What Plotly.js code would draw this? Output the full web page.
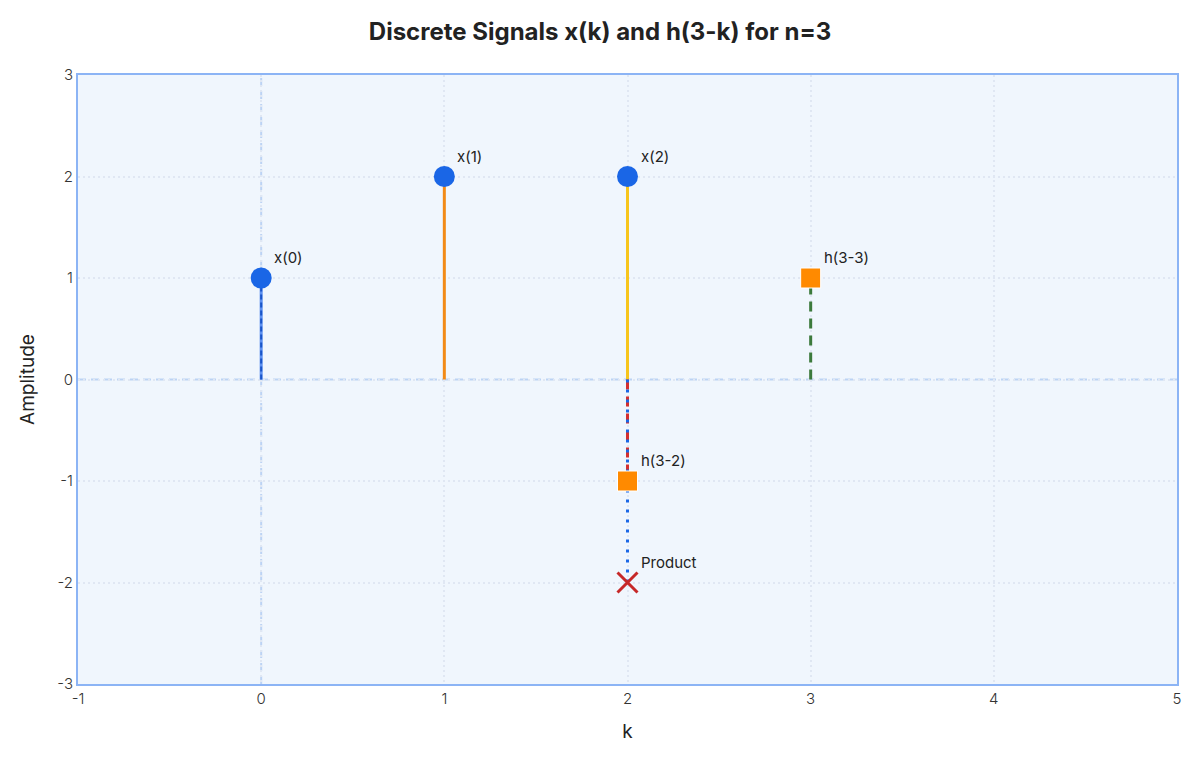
<!DOCTYPE html>
<html><head><meta charset="utf-8">
<script src="https://cdn.plot.ly/plotly-3.0.1.min.js"></script>
<style>html,body{margin:0;padding:0;background:#fff}#chart{width:1200px;height:760px}</style>
</head><body><div id="chart"></div>
<script>
// Data
const xK = [0, 1, 2];
const xVals = [1, 2, 2];
const xLabels = ["x(0)", "x(1)", "x(2)"];
const xStemColors = ["#5b8ff0", "#f28a16", "#f7c51c"];
const hK = [2, 3];
const hVals = [-1, 1];
const hLabels = ["h(3-2)", "h(3-3)"];
const hStemColors = ["#d32f2f", "#3c7a3c"];
const prodK = [2];
const prodVals = [-2];
const prodLabels = ["Product"];
const xTicks = [-1, 0, 1, 2, 3, 4, 5];
const yTicks = [-3, -2, -1, 0, 1, 2, 3];

const traces = [];
// x stems
xK.forEach((k, i) => {
  traces.push({x: [k, k], y: [0, xVals[i]], mode: 'lines', line: {color: xStemColors[i], width: 3}, hoverinfo: 'skip', showlegend: false});
});
// dashed overlay on x(0) stem
traces.push({x: [xK[0], xK[0]], y: [0, xVals[0]], mode: 'lines', line: {color: '#1a55c8', width: 2, dash: '5px,3px'}, hoverinfo: 'skip', showlegend: false});
// h stems
hK.forEach((k, i) => {
  traces.push({x: [k, k], y: [0, hVals[i]], mode: 'lines', line: {color: hStemColors[i], width: 3, dash: '10px,7px'}, hoverinfo: 'skip', showlegend: false});
});
// product stem
prodK.forEach((k, i) => {
  traces.push({x: [k, k], y: [0, prodVals[i]], mode: 'lines', line: {color: '#1a66e6', width: 3, dash: '3px,7px'}, hoverinfo: 'skip', showlegend: false});
});
// markers
traces.push({x: xK, y: xVals, mode: 'markers', marker: {symbol: 'circle', size: 21, color: '#1a66e6'}, showlegend: false});
traces.push({x: hK, y: hVals, mode: 'markers', marker: {symbol: 'square', size: 20, color: '#ff8a00', line: {color: '#ffffff', width: 1}}, showlegend: false});
traces.push({x: prodK, y: prodVals, mode: 'markers', marker: {symbol: 'x-thin', size: 20, color: '#c62828', line: {color: '#c62828', width: 3}}, showlegend: false});

const annotations = [];
const addLabels = (ks, vs, labels) => ks.forEach((k, i) => annotations.push({
  x: k, y: vs[i], text: labels[i], showarrow: false, xanchor: 'left', yanchor: 'bottom',
  xshift: 11, yshift: 9, font: {size: 15, color: '#222'}
}));
addLabels(xK, xVals, xLabels);
addLabels(hK, hVals, hLabels);
addLabels(prodK, prodVals, prodLabels);

const layout = {
  width: 1200, height: 760,
  margin: {l: 78, r: 23, t: 75, b: 76},
  paper_bgcolor: '#ffffff', plot_bgcolor: '#f0f6fd',
  font: {family: 'Inter, "Noto Sans", sans-serif', color: '#222', size: 15},
  title: {text: '<b>Discrete Signals x(k) and h(3-k) for n=3</b>', x: 0.5, xanchor: 'center', y: 0.958, yanchor: 'middle', font: {size: 24, color: '#222'}},
  xaxis: {
    range: [-1, 5], tickvals: xTicks, ticktext: xTicks.map(String),
    showgrid: true, gridcolor: '#e0e7f3', griddash: '2px,3px', gridwidth: 2,
    zeroline: false,
    showline: true, linecolor: '#8cb4f5', linewidth: 2, mirror: true,
    ticks: '', tickfont: {size: 15, color: '#333', weight: 300},
    title: {text: 'k', font: {size: 19}, standoff: 18}
  },
  yaxis: {
    range: [-3, 3], tickvals: yTicks, ticktext: yTicks.map(String),
    showgrid: true, gridcolor: '#e0e7f3', griddash: '2px,3px', gridwidth: 2,
    zeroline: false,
    showline: true, linecolor: '#8cb4f5', linewidth: 2, mirror: true,
    ticks: '', tickfont: {size: 15, color: '#333', weight: 300},
    title: {text: 'Amplitude', font: {size: 19}, standoff: 18}
  },
  shapes: [
    {type: 'line', xref: 'x', yref: 'paper', x0: 0, x1: 0, y0: 0, y1: 1, line: {color: '#bcd3f4', width: 2, dash: '8px,5px'}, layer: 'between'},
    {type: 'line', xref: 'paper', yref: 'y', x0: 0, x1: 1, y0: 0, y1: 0, line: {color: '#bcd3f4', width: 2, dash: '8px,5px'}, layer: 'between'}
  ],
  annotations: annotations
};

Plotly.newPlot('chart', traces, layout, {displayModeBar: false, staticPlot: true});
</script>
</body></html>
